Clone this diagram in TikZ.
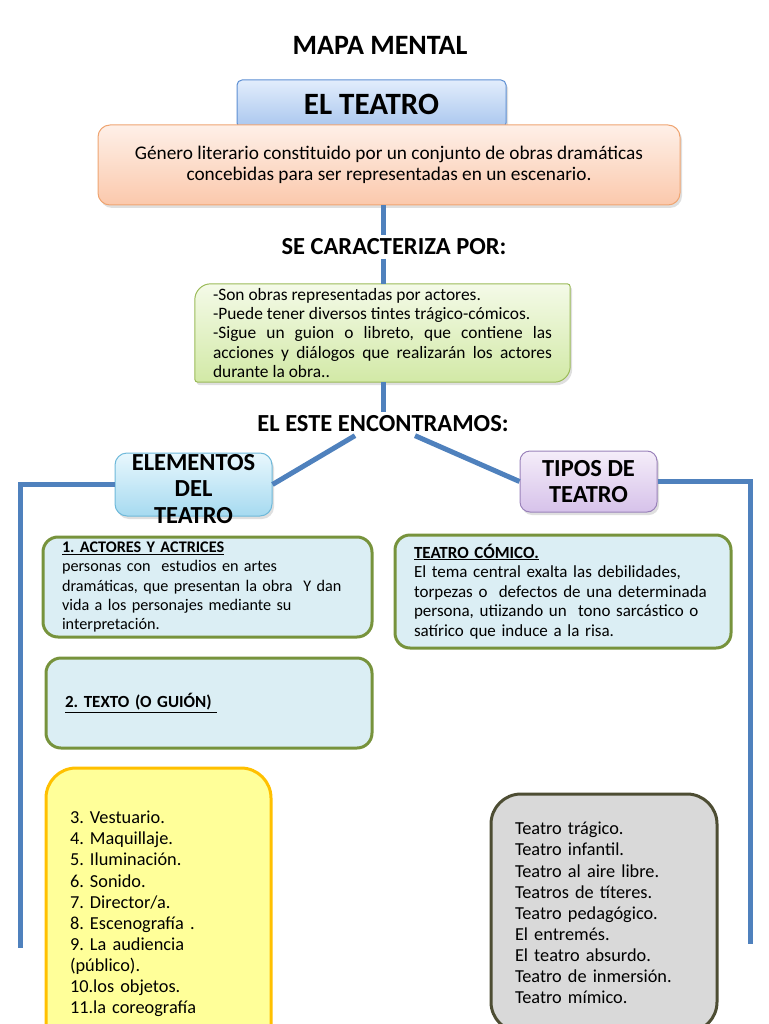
\documentclass[tikz,border=0pt]{standalone}
\usepackage{fontspec}
\setmainfont{Carlito}
\frenchspacing
\hfuzz=60pt
\usetikzlibrary{positioning,shadows,backgrounds}
\definecolor{linkblue}{HTML}{4F81BD}
\definecolor{teatroT}{HTML}{E2EDFC}
\definecolor{teatroB}{HTML}{A9C6EE}
\definecolor{teatroD}{HTML}{5D8FD3}
\definecolor{defT}{HTML}{FEF0E8}
\definecolor{defB}{HTML}{FBC8AC}
\definecolor{defD}{HTML}{EFA572}
\definecolor{carT}{HTML}{F4FAE8}
\definecolor{carB}{HTML}{D2E9A6}
\definecolor{carD}{HTML}{9BBB59}
\definecolor{elemT}{HTML}{E8F7FD}
\definecolor{elemB}{HTML}{A6DAF0}
\definecolor{elemD}{HTML}{6FB9DA}
\definecolor{tipT}{HTML}{F5EDF9}
\definecolor{tipB}{HTML}{D6C2EA}
\definecolor{tipD}{HTML}{9A82BA}
\definecolor{boxfill}{HTML}{DBEEF4}
\definecolor{boxline}{HTML}{77933C}
\definecolor{listY}{HTML}{FFFF99}
\definecolor{listYD}{HTML}{FFC000}
\definecolor{listG}{HTML}{D9D9D9}
\definecolor{listGD}{HTML}{4D4D33}
\tikzset{
  link/.style={linkblue,line width=5pt},
  softshadow/.style={drop shadow={opacity=0.25,shadow xshift=2pt,shadow yshift=-3pt}},
  bigtext/.style={font=\fontsize{24.5}{26.5}\selectfont\bfseries},
  infobox/.style={rounded corners=15pt,line width=3pt,draw=boxline,fill=boxfill,
    align=left,inner xsep=19pt,font=\fontsize{17}{19.6}\selectfont},
  listbox/.style={rounded corners=30pt,line width=3pt,align=left,inner xsep=24pt,
    font=\fontsize{18.3}{21.1}\selectfont}
}
\begin{document}
\begin{tikzpicture}[x=1pt,y=-1pt]
\useasboundingbox (0,0) rectangle (768,1024);
\coordinate (spine) at (383,0);
\node[font=\fontsize{28}{32}\selectfont\bfseries] (title) at (380,45) {MAPA MENTAL};
\node[rounded corners=5pt,draw=teatroD,line width=1pt,top color=teatroT,bottom color=teatroB,
  softshadow,minimum width=269,minimum height=48,font=\fontsize{31}{34}\selectfont\bfseries]
  (teatro) at (371.5,104) {EL TEATRO};
\node[rounded corners=12pt,draw=defD,line width=1pt,top color=defT,bottom color=defB,
  softshadow,minimum width=582,minimum height=80,align=center,
  font=\fontsize{19.3}{20.5}\selectfont] (def) at (389,165)
  {Género literario constituido por un conjunto de obras dramáticas\\
   concebidas para ser representadas en un escenario.};
\node[bigtext] (se) at (394,247) {SE CARACTERIZA POR:};
\node[text width=339,inner xsep=18pt,minimum height=98,align=justify,
  font=\fontsize{17.4}{19.4}\selectfont] (carac) at (382.5,333)
  {-Son obras representadas por actores.\\
   -Puede tener diversos tintes trágico-cómicos.\\
   -Sigue un guion o libreto, que contiene las\linebreak
   acciones y diálogos que realizarán los actores\linebreak
   durante la obra..};
\begin{scope}[on background layer]
\draw[draw=carD,line width=1pt,top color=carT,bottom color=carB,softshadow]
  (carac.west) [rounded corners=16pt] |- (carac.north) [rounded corners=3pt] -| (carac.east)
  [rounded corners=16pt] |- (carac.south) [rounded corners=3pt] -| (carac.west) -- cycle;
\end{scope}
\node[bigtext] (este) at (383,424) {EL ESTE ENCONTRAMOS:};
\node[rounded corners=12pt,draw=elemD,line width=1pt,top color=elemT,bottom color=elemB,
  softshadow,minimum width=157,minimum height=63] (elem) at (193.5,484.5) {};
\node[bigtext,align=center] (elemtxt) at (193.5,489) {ELEMENTOS\\DEL\\TEATRO};
\node[rounded corners=10pt,draw=tipD,line width=1pt,top color=tipT,bottom color=tipB,
  softshadow,minimum width=137,minimum height=61,bigtext,align=center]
  (tipos) at (588.5,481.5) {TIPOS DE\\TEATRO};
% boxes of the two branches
\node[infobox,text width=291,minimum height=100,font=\fontsize{16.2}{19.3}\selectfont]
  (actores) at (207.5,587)
  {\underline{\textbf{1. ACTORES Y ACTRICES}}\\
   personas con\ \ estudios en artes\\
   \mbox{dramáticas, que presentan la obra\ \ Y dan}\\
   vida a los personajes mediante su\\
   interpretación.};
\node[infobox,text width=298,minimum height=113] (comico) at (563,591.5)
  {\underline{\textbf{TEATRO CÓMICO.}}\\
   El tema central exalta las debilidades,\\
   torpezas o\ \ defectos de una determinada\\
   persona, utiizando un\ \ tono sarcástico o\\
   satírico que induce a la risa.};
\node[infobox,text width=288,minimum height=90] (texto) at (209,703)
  {\underline{\textbf{2. TEXTO (O GUIÓN)}\ }};
\node[listbox,draw=listYD,fill=listY,text width=177,minimum height=292] (otros) at (158.5,914)
  {3. Vestuario.\\4. Maquillaje.\\5. Iluminación.\\6. Sonido.\\7. Director/a.\\
   8. Escenografía .\\9. La audiencia\\(público).\\10.los objetos.\\11.la coreografía};
\node[listbox,draw=listGD,fill=listG,text width=178,minimum height=238] (clases) at (604,913)
  {Teatro trágico.\\Teatro infantil.\\Teatro al aire libre.\\Teatros de títeres.\\
   Teatro pedagógico.\\El entremés.\\El teatro absurdo.\\Teatro de inmersión.\\Teatro mímico.};
% connectors
\coordinate (leftend) at (20,948);
\coordinate (rightend) at (750,944);
\draw[link] (def.south -| spine) -- (se.north -| spine);
\draw[link] (se.south -| spine) -- (carac.north -| spine);
\draw[link] (carac.south -| spine) -- (este.north -| spine);
\draw[link] ([xshift=-28pt]este.south) -- (elem.east);
\draw[link] ([xshift=32pt]este.south) -- (tipos.west);
\draw[link] (elem.west) -| (leftend);
\draw[link] (tipos.east) -| (rightend);
\end{tikzpicture}
\end{document}
